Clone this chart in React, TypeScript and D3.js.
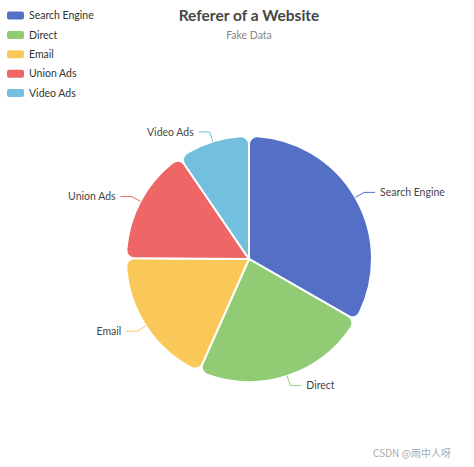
import React from "react"
import * as d3 from "d3"

const categories = ["Search Engine", "Direct", "Email", "Union Ads", "Video Ads"]
const values = [1048, 735, 580, 484, 300]
const colors = ["#5470c6", "#91cc75", "#fac858", "#ee6666", "#73c0de"]

const W = 474
const H = 467
const font = "Lato, 'Noto Sans', sans-serif"

export default function App() {
    const cx = 249
    const cy = 259
    const r = 123
    const len1 = 10
    const len2 = 11

    const pie = d3.pie<number>().sort(null).value((d) => d)
    const arcs = pie(values)
    const arc = d3.arc<d3.PieArcDatum<number>>().innerRadius(0).outerRadius(r).cornerRadius(8)

    return (
        <svg width={W} height={H} style={{ position: "absolute", left: 0, top: 0, background: "#fff" }} fontFamily={font}>
            <text x={249} y={21} textAnchor="middle" fontSize={15.5} fontWeight="bold" fill="#464646">
                Referer of a Website
            </text>
            <text x={249} y={39} textAnchor="middle" fontSize={10.5} fill="#888">
                Fake Data
            </text>

            {/* legend */}
            {categories.map((c, i) => (
                <g key={c} transform={`translate(7,${15.5 + i * 19.4})`}>
                    <rect x={0} y={-4} width={17} height={8} rx={2} fill={colors[i]} />
                    <text x={22} y={0} dy="0.35em" fontSize={10.5} fill="#333">
                        {c}
                    </text>
                </g>
            ))}

            <g transform={`translate(${cx},${cy})`}>
                {arcs.map((a, i) => (
                    <path key={i} d={arc(a) || ""} fill={colors[i]} stroke="#fff" strokeWidth={2} />
                ))}
                {arcs.map((a, i) => {
                    const mid = (a.startAngle + a.endAngle) / 2
                    const sx = Math.sin(mid)
                    const sy = -Math.cos(mid)
                    const p1 = [sx * r, sy * r]
                    const p2 = [sx * (r + len1), sy * (r + len1)]
                    const right = sx >= 0
                    const p3 = [p2[0] + (right ? len2 : -len2), p2[1]]
                    return (
                        <g key={"l" + i}>
                            <polyline
                                points={[p1, p2, p3].map((p) => p.join(",")).join(" ")}
                                fill="none"
                                stroke={colors[i]}
                                strokeWidth={1}
                            />
                            <text
                                x={p3[0] + (right ? 5 : -5)}
                                y={p3[1]}
                                dy="0.35em"
                                textAnchor={right ? "start" : "end"}
                                fontSize={10.5}
                                fill="#464646"
                            >
                                {categories[i]}
                            </text>
                        </g>
                    )
                })}
            </g>

            <text x={451} y={457} textAnchor="end" fontSize={10} fill="#aaa" fontFamily="'Noto Sans CJK SC', sans-serif">
                CSDN @雨中人呀
            </text>
        </svg>
    )
}
